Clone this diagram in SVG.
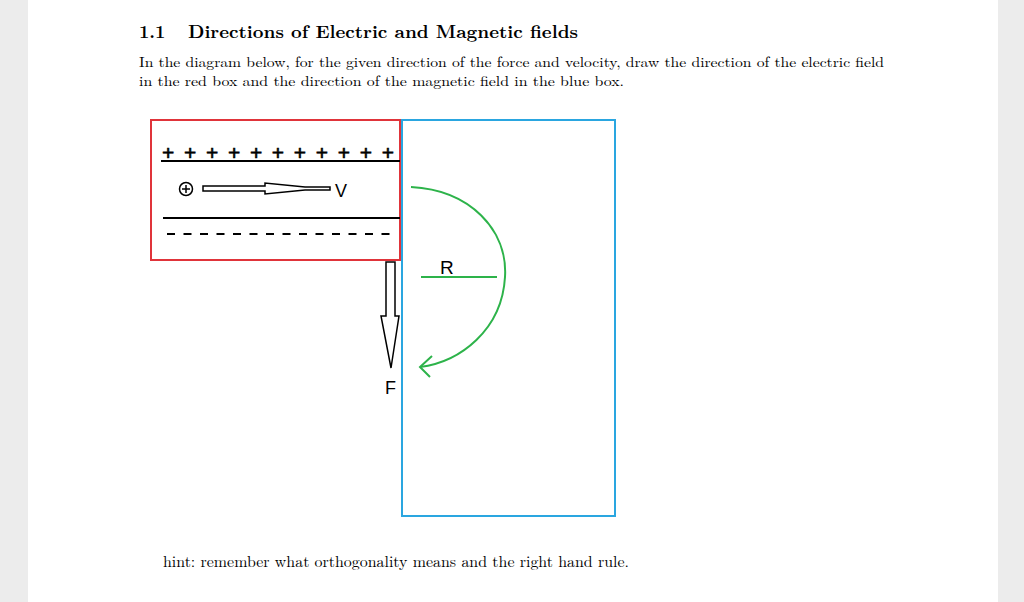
<svg xmlns="http://www.w3.org/2000/svg" width="1024" height="602" viewBox="0 0 1024 602">
<style>
.t{font-family:"Latin Modern Roman","Liberation Serif",serif;fill:#000}
.s{font-family:"Liberation Sans",Arial,sans-serif;fill:#000}
.k{stroke:#000;fill:none}
.g{stroke:#2db34a;fill:none;stroke-width:2}
</style>
<rect width="1024" height="602" fill="#ececec"/>
<rect x="28" y="0" width="970" height="602" fill="#fff"/>
<text class="t" x="139" y="38" font-size="18" font-weight="bold">1.1</text>
<text class="t" x="188" y="38" font-size="18" font-weight="bold" textLength="390" lengthAdjust="spacingAndGlyphs">Directions of Electric and Magnetic fields</text>
<text class="t" x="139" y="67" font-size="14" textLength="745" lengthAdjust="spacingAndGlyphs">In the diagram below, for the given direction of the force and velocity, draw the direction of the electric field</text>
<text class="t" x="139" y="86" font-size="14" textLength="485" lengthAdjust="spacingAndGlyphs">in the red box and the direction of the magnetic field in the blue box.</text>
<g id="redbox"><rect x="151" y="120" width="249" height="140" fill="none" stroke="#e0343a" stroke-width="2"/>
<text class="s" x="162" y="160" font-size="21" stroke="#000" stroke-width="0.6" textLength="232" lengthAdjust="spacing">+++++++++++</text>
<line class="k" x1="161" y1="161" x2="400" y2="161" stroke-width="2"/>
<line class="k" x1="163" y1="218" x2="400" y2="218" stroke-width="2"/>
<line class="k" x1="167" y1="234" x2="397" y2="234" stroke-width="2" stroke-dasharray="8,8.5"/>
<circle class="k" cx="186" cy="189" r="6.5" stroke-width="1.5"/>
<path class="k" d="M182 189h8M186 185v8" stroke-width="1.5"/>
<path class="k" d="M203 186h62v-3l40 4h25v3h-25l-40 4v-3h-62z" stroke-width="1.5"/>
<text class="s" x="335" y="197" font-size="18">V</text></g>
<g id="bluebox"><rect x="402" y="120" width="213" height="396" fill="none" stroke="#2aa6e0" stroke-width="2"/></g>
<g id="connectors">
<path class="k" d="M386 262h9v54h4l-8 52l-10-52h5z" stroke-width="1.5"/>
<text class="s" x="385" y="394" font-size="18">F</text>
<path class="g" d="M411 187C470 190 508 230 505 277C502 330 460 362 420 367"/>
<path class="g" d="M432 356L420 367L430 377"/>
<line class="g" x1="421" y1="277" x2="497" y2="277"/>
<text class="s" x="440" y="274" font-size="19">R</text>
</g>
<text class="t" x="163" y="567" font-size="15" textLength="466" lengthAdjust="spacingAndGlyphs">hint: remember what orthogonality means and the right hand rule.</text>
</svg>
